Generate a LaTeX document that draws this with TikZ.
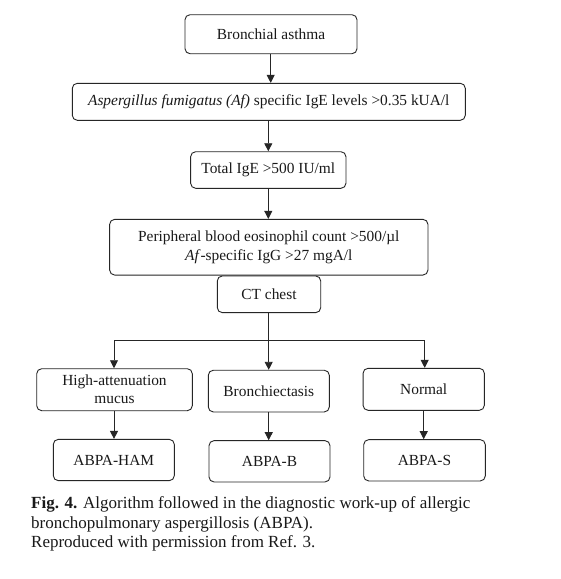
\documentclass[tikz,border=0pt]{standalone}
\usepackage{fontspec}
\setmainfont{Liberation Serif}
\usetikzlibrary{arrows.meta}
\begin{document}
\begin{tikzpicture}[x=1pt,y=-1pt,
 box/.style={draw=black!85, rounded corners=5pt, line width=0.9pt, inner sep=0pt, align=center, font=\fontsize{15.4}{18}\selectfont, text=black!90},
 arr/.style={draw=black!85, -{Triangle[width=8pt,length=8pt]}, line width=0.9pt},
 ln/.style={draw=black!85, line width=0.9pt}]
\useasboundingbox[fill=white] (0,0) rectangle (561,579);
\node[box, minimum width=172pt, minimum height=39pt] (ba) at (271,34.2) {Bronchial asthma};
\node[box, minimum width=393pt, minimum height=37pt] (af) at (268.8,101.8) {\textit{Aspergillus fumigatus (Af)} specific IgE levels >0.35 kUA/l};
\node[box, minimum width=155.3pt, minimum height=36.6pt] (tot) at (268.3,170) {Total IgE >500 IU/ml};
\node[box, minimum width=318.3pt, minimum height=55.7pt, font=\fontsize{15.4}{19.6}\selectfont] (per) at (268.8,247.2) {Peripheral blood eosinophil count >500/µl\\\textit{Af}-specific IgG >27 mgA/l};
\node[box, minimum width=103.4pt, minimum height=36.7pt] (ct) at (269,294.3) {CT chest};
\node[box, minimum width=155.6pt, minimum height=42pt] (ham) at (114.5,389.7) {High-attenuation\\mucus};
\node[box, minimum width=121pt, minimum height=41.7pt] (bron) at (268.8,391.1) {Bronchiectasis};
\node[box, minimum width=121.3pt, minimum height=42pt] (norm) at (423.7,389.3) {Normal};
\node[box, minimum width=121pt, minimum height=41.3pt] (aham) at (113.8,460) {ABPA-HAM};
\node[box, minimum width=121pt, minimum height=41.3pt] (ab) at (269.5,461.3) {ABPA-B};
\node[box, minimum width=121.6pt, minimum height=41.3pt] (as) at (424.5,460.3) {ABPA-S};
\coordinate (split) at (268.7,340.7);
\draw[arr] (ba.south -| 270.7,0) -- (270.7,0 |- af.north);
\draw[arr] (af.south -| 268.3,0) -- (268.3,0 |- tot.north);
\draw[arr] (tot.south -| 268.3,0) -- (268.3,0 |- per.north);
\draw[ln] (ct.south -| split) -- (split);
\draw[arr] (split) -- (split |- bron.north);
\draw[arr] (split) -| (114,0 |- ham.north);
\draw[arr] (split) -| (424.7,0 |- norm.north);
\draw[arr] (ham.south -| 114,0) -- (114,0 |- aham.north);
\draw[arr] (bron.south -| 268.7,0) -- (268.7,0 |- ab.north);
\draw[arr] (norm.south -| 423.7,0) -- (423.7,0 |- as.north);
\node[anchor=base west, align=left, inner sep=0pt, font=\fontsize{17}{19.7}\selectfont, text=black!90] (cap) at (31,547.7) {\textbf{Fig. 4.} Algorithm followed in the diagnostic work-up of allergic\\bronchopulmonary aspergillosis (ABPA).\\Reproduced with permission from Ref. 3.};
\end{tikzpicture}
\end{document}
